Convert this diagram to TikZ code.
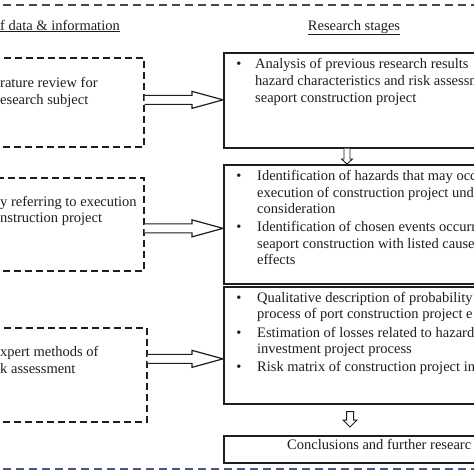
\documentclass[tikz,border=0pt]{standalone}
\usepackage{fontspec}
\setmainfont{Liberation Serif}
\usetikzlibrary{calc}
\newcommand\fs{\fontsize{14.5}{17}\selectfont}
\definecolor{topdash}{RGB}{64,72,88}
\definecolor{botdash}{RGB}{70,92,135}
\definecolor{ink}{RGB}{30,30,30}
\begin{document}
\begin{tikzpicture}[x=1pt,y=-1pt,
  solidbox/.style={draw=ink, line width=1.6pt, rectangle, inner sep=0pt, anchor=north west},
  dashbox/.style={draw=ink, line width=1.7pt, dash pattern=on 7pt off 4pt, rectangle, inner sep=0pt, anchor=north west},
  txt/.style={anchor=base west, inner sep=0pt, font=\fs, text=ink},
  bul/.style={anchor=base, inner sep=0pt, font=\fs, text=ink},
  blockarrow/.style={draw=ink, line width=1.2pt, fill=white, line join=miter}]
\useasboundingbox (0,0) rectangle (474,474);
\clip (0,0) rectangle (474,474);
% outer dashed frame (top and bottom edges visible)
\draw[draw=topdash, line width=1.3pt, dash pattern=on 8pt off 5pt] (-10,5) -- (484,5);
\draw[draw=botdash, line width=1.3pt, dash pattern=on 8pt off 5pt] (-10,469) -- (484,469);
% headings
\node[txt] (h1) at (0,30) {\underline{f data \& information}};
\node[bul] (h2) at (354,30) {\underline{Research stages}};
% left dashed boxes
\node[dashbox, minimum width=163pt, minimum height=89pt] (L1) at (-20,57) {};
\node[dashbox, minimum width=163pt, minimum height=93pt] (L2) at (-20,177) {};
\node[dashbox, minimum width=166pt, minimum height=94pt] (L3) at (-20,327) {};
% right boxes
\node[solidbox, minimum width=267pt, minimum height=95pt] (R1) at (223,52) {};
\node[solidbox, minimum width=267pt, minimum height=119pt] (R2) at (223,164) {};
\node[solidbox, minimum width=267pt, minimum height=117pt] (R3) at (223,286) {};
\node[solidbox, minimum width=267pt, minimum height=27pt] (R4) at (223,435) {};
% left texts
\node[txt] (l11) at (0,87) {rature review for};
\node[txt] (l12) at (0,104) {esearch subject};
\node[txt] (l21) at (0,206) {y referring to execution};
\node[txt] (l22) at (0,222) {nstruction project};
\node[txt] (l31) at (0,356) {xpert methods of};
\node[txt] (l32) at (0,373) {k assessment};
% right texts: box 1
\node[bul] (b11) at (239,68) {\textbullet};
\node[txt] (r11) at (255,68) {Analysis of previous research results};
\node[txt] (r12) at (255,85) {hazard characteristics and risk assessm};
\node[txt] (r13) at (255,102) {seaport construction project};
% box 2
\node[bul] (b21) at (239,180) {\textbullet};
\node[txt] (r21) at (257,180) {Identification of hazards that may occ};
\node[txt] (r22) at (257,197) {execution of construction project unde};
\node[txt] (r23) at (257,213) {consideration};
\node[bul] (b22) at (239,231) {\textbullet};
\node[txt] (r24) at (257,231) {Identification of chosen events occurri};
\node[txt] (r25) at (257,248) {seaport construction with listed causes};
\node[txt] (r26) at (257,264) {effects};
% box 3
\node[bul] (b31) at (239,302) {\textbullet};
\node[txt] (r31) at (257,302) {Qualitative description of probability};
\node[txt] (r32) at (257,318) {process of port construction project e};
\node[bul] (b32) at (239,337) {\textbullet};
\node[txt] (r33) at (257,337) {Estimation of losses related to hazard};
\node[txt] (r34) at (257,353) {investment project process};
\node[bul] (b33) at (239,371) {\textbullet};
\node[txt] (r35) at (257,371) {Risk matrix of construction project in};
% box 4
\node[txt] (r41) at (287,449) {Conclusions and further researc};
% horizontal block arrows
\coordinate (a1) at ($(L1.east)+(0,-2.5)$);
\coordinate (c1) at (a1 -| R1.west);
\coordinate (a2) at ($(L2.east)+(0,4)$);
\coordinate (c2) at (a2 -| R2.west);
\coordinate (a3) at ($(L3.east)+(0,-16)$);
\coordinate (c3) at (a3 -| R3.west);
\foreach \a/\c in {a1/c1,a2/c2,a3/c3}{
  \draw[blockarrow] ($(\a)+(0,-4.5)$) -- ($(\c)+(-31,-4.5)$) -- ($(\c)+(-31,-8.5)$) -- (\c)
    -- ($(\c)+(-31,8.5)$) -- ($(\c)+(-31,4.5)$) -- ($(\a)+(0,4.5)$);
}
% vertical arrows
\coordinate (d1) at ($(R1.south west)+(124,0)$);
\coordinate (e1) at ($(R2.north west)+(124,0)$);
\draw[blockarrow, line width=0.9pt] ($(d1)+(-3,0)$) -- ($(e1)+(-3,-5)$) -- ($(e1)+(-5.5,-5)$) -- (e1)
  -- ($(e1)+(5.5,-5)$) -- ($(e1)+(3,-5)$) -- ($(d1)+(3,0)$);
\coordinate (d2) at ($(R3.south west)+(127,7)$);
\coordinate (e2) at ($(R4.north west)+(127,-8)$);
\draw[blockarrow, line width=1pt] ($(d2)+(-3.5,0)$) -- ($(e2)+(-3.5,-7)$) -- ($(e2)+(-7,-7)$) -- (e2)
  -- ($(e2)+(7,-7)$) -- ($(e2)+(3.5,-7)$) -- ($(d2)+(3.5,0)$) -- cycle;
\end{tikzpicture}
\end{document}
